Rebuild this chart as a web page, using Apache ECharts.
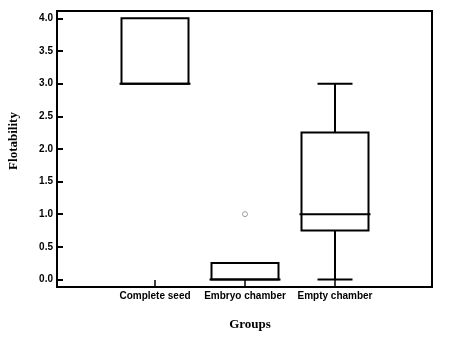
<!DOCTYPE html>
<html>
<head>
<meta charset="utf-8">
<script src="https://cdn.jsdelivr.net/npm/echarts@6/dist/echarts.min.js"></script>
<style>html,body{margin:0;padding:0;background:#fff;}#c{width:449px;height:340px;}</style>
</head>
<body>
<div id="c"></div>
<script>
const categories = ['Complete seed', 'Embryo chamber', 'Empty chamber'];
const mins    = [3, 0, 0];
const q1s     = [3, 0, 0.75];
const medians = [3, 0, 1];
const q3s     = [4, 0.25, 2.25];
const maxs    = [4, 0.25, 3];
const outliers = [['Embryo chamber', 1.0]];
const yTicks = [0, 0.5, 1, 1.5, 2, 2.5, 3, 3.5, 4];
const yTitle = 'Flotability';
const xTitle = 'Groups';

const boxData = categories.map((c, i) => [i, mins[i], q1s[i], medians[i], q3s[i], maxs[i]]);

const chart = echarts.init(document.getElementById('c'), null, {renderer: 'canvas'});
const axisFont = {fontFamily: 'Liberation Sans, Arial, sans-serif', fontWeight: 'bold', fontSize: 10, color: '#000'};

function renderBox(params, api) {
  const i = api.value(0);
  const cx = api.coord([i, 0])[0];
  const y = k => api.coord([i, api.value(k)])[1];
  const yMin = y(1), yQ1 = y(2), yMed = y(3), yQ3 = y(4), yMax = y(5);
  const hw = 33.5, mw = 35.5, cw = 17.5;
  const st = {stroke: '#000', lineWidth: 2, fill: null};
  const children = [
    {type: 'rect', shape: {x: cx - hw, y: yQ3, width: 2 * hw, height: yQ1 - yQ3}, style: st},
    {type: 'line', shape: {x1: cx - mw, y1: yMed, x2: cx + mw, y2: yMed}, style: st}
  ];
  if (yMax < yQ3 - 0.5) {
    children.push({type: 'line', shape: {x1: cx, y1: yQ3, x2: cx, y2: yMax}, style: st});
    children.push({type: 'line', shape: {x1: cx - cw, y1: yMax, x2: cx + cw, y2: yMax}, style: st});
  }
  if (yMin > yQ1 + 0.5) {
    children.push({type: 'line', shape: {x1: cx, y1: yQ1, x2: cx, y2: yMin}, style: st});
    children.push({type: 'line', shape: {x1: cx - cw, y1: yMin, x2: cx + cw, y2: yMin}, style: st});
  }
  return {type: 'group', children};
}

chart.setOption({
  backgroundColor: '#fff',
  animation: false,
  grid: [
    {left: 57, right: 17, top: 11, bottom: 53, show: true, borderColor: '#000', borderWidth: 2, backgroundColor: 'transparent'},
    {left: 110, right: 69, top: 11, bottom: 53}
  ],
  xAxis: [
    {gridIndex: 0, type: 'value', show: false, min: 0, max: 1},
    {
      gridIndex: 1, type: 'category', data: categories, boundaryGap: true,
      axisLine: {show: false, onZero: false},
      axisTick: {show: true, inside: true, alignWithLabel: true, length: 7, lineStyle: {color: '#000', width: 1.5}},
      axisLabel: Object.assign({margin: 4, interval: 0}, axisFont),
      splitLine: {show: false}
    }
  ],
  yAxis: [
    {gridIndex: 0, type: 'value', show: false, min: 0, max: 1},
    {
      gridIndex: 1, type: 'value', min: -0.116, max: 4.113, offset: 53,
      axisLine: {show: false},
      axisTick: {show: true, inside: true, length: 6, customValues: yTicks, lineStyle: {color: '#000', width: 2}},
      axisLabel: Object.assign({margin: 4, customValues: yTicks, formatter: v => v.toFixed(1)}, axisFont),
      splitLine: {show: false}
    }
  ],
  graphic: [
    {type: 'text', x: 14, y: 141, rotation: Math.PI / 2,
     style: {text: yTitle, font: 'bold 13px "Liberation Serif", "Times New Roman", serif', fill: '#000', textAlign: 'center', textVerticalAlign: 'middle'}},
    {type: 'text', x: 250, y: 325,
     style: {text: xTitle, font: 'bold 13px "Liberation Serif", "Times New Roman", serif', fill: '#000', textAlign: 'center', textVerticalAlign: 'middle'}}
  ],
  series: [
    {
      type: 'custom', xAxisIndex: 1, yAxisIndex: 1,
      data: boxData,
      encode: {x: 0, y: [1, 2, 3, 4, 5]},
      renderItem: renderBox,
      z: 5
    },
    {
      type: 'scatter', xAxisIndex: 1, yAxisIndex: 1,
      data: outliers,
      symbol: 'circle', symbolSize: 5,
      itemStyle: {color: '#fff', borderColor: '#888', borderWidth: 1},
      z: 6
    }
  ]
});
</script>
</body>
</html>
